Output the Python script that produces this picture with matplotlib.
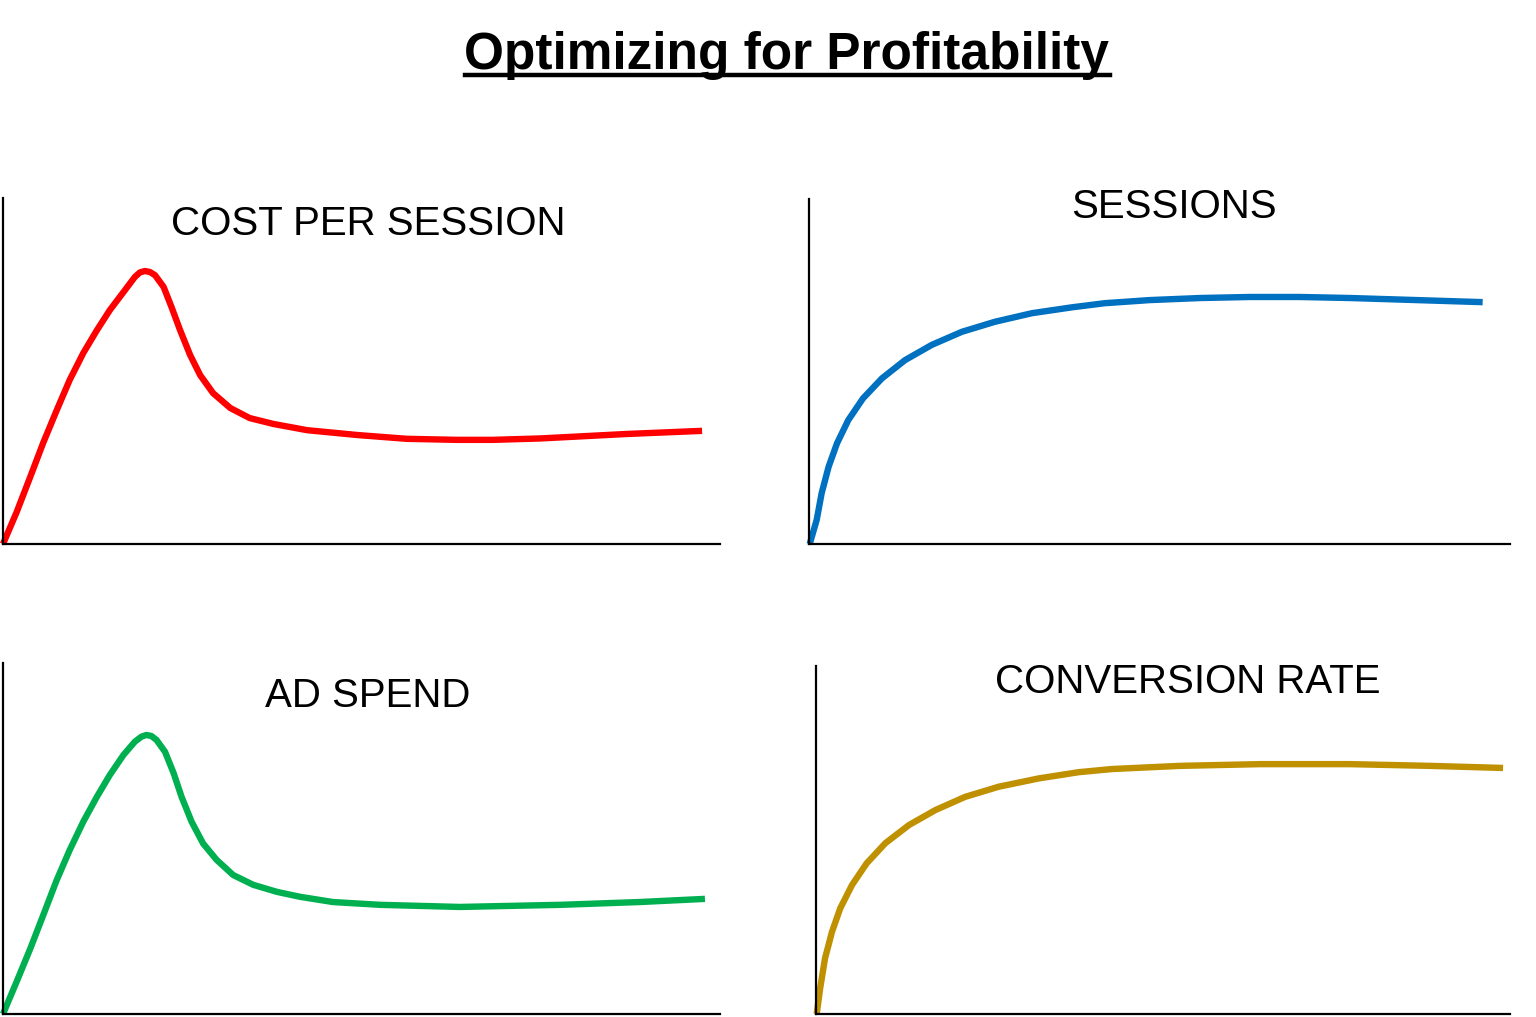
import numpy as np
import matplotlib
matplotlib.use('Agg')
import matplotlib.pyplot as plt
from matplotlib.lines import Line2D

plt.rcParams['font.family'] = ['Liberation Sans', 'DejaVu Sans']

#### Data (both axes in 0-100 units)

## Cost per session
cps_x = [0, 1.9, 3.8, 5.6, 7.5, 9.3, 11.2, 13.1, 14.9, 16.8, 18.4, 19.1, 19.8, 20.5, 21.2, 22.4, 23.5, 24.7, 26.1, 27.5, 29.3, 31.7, 34.4, 37.7, 42.4, 49.4, 56.3, 63.3, 68.3, 74.9, 87.0, 97.5]
cps_y = [0, 9.2, 19.4, 29.2, 38.7, 47.4, 55.2, 61.8, 67.6, 72.8, 77.2, 78.5, 78.9, 78.6, 77.7, 74.3, 68.5, 61.8, 54.6, 48.8, 43.6, 39.3, 36.4, 34.7, 32.9, 31.5, 30.4, 30.1, 30.1, 30.5, 31.8, 32.7]

## Sessions
ses_x = [0.1, 1.1, 1.8, 2.8, 4.0, 5.6, 7.7, 10.4, 13.7, 17.5, 21.8, 26.5, 31.8, 37.5, 42.2, 48.6, 55.8, 62.9, 70.0, 77.2, 86.7, 96.1]
ses_y = [0, 7.0, 14.7, 22.4, 29.2, 35.9, 42.2, 48.0, 53.3, 57.7, 61.5, 64.4, 66.9, 68.6, 69.8, 70.7, 71.3, 71.6, 71.6, 71.3, 70.7, 70.1]

## Ad spend
ads_x = [0, 1.9, 3.8, 5.6, 7.5, 9.3, 11.2, 13.1, 14.9, 16.8, 18.4, 19.3, 20.0, 20.7, 21.4, 22.6, 23.8, 24.9, 26.3, 27.9, 29.8, 32.1, 34.9, 38.2, 41.4, 46.0, 52.6, 63.7, 77.7, 88.8, 97.9]
ads_y = [0, 9.2, 18.6, 28.1, 38.2, 46.7, 54.8, 61.9, 68.1, 73.8, 77.6, 79.0, 79.5, 79.2, 78.1, 74.7, 68.6, 61.9, 54.8, 48.6, 43.9, 39.6, 36.8, 34.8, 33.4, 31.9, 31.1, 30.5, 31.1, 31.9, 32.8]

## Conversion rate
cvr_x = [0.1, 0.6, 1.3, 2.3, 3.5, 5.2, 7.3, 10.0, 13.4, 17.2, 21.5, 26.3, 32.1, 37.9, 42.7, 52.4, 64.0, 76.9, 88.5, 99.0]
cvr_y = [0, 7.4, 16.0, 23.6, 30.4, 37.1, 43.3, 49.1, 54.3, 58.6, 62.4, 65.3, 67.7, 69.5, 70.4, 71.3, 71.8, 71.8, 71.3, 70.7]

titles = ['COST PER SESSION', 'SESSIONS', 'AD SPEND', 'CONVERSION RATE']
colors = ['#FF0000', '#0070C0', '#00B050', '#BF9000']

#### Layout (figure fractions)
W, H = 1536, 1017
ax_rects = [[3/W, (H-544)/H, 717/W, 346/H],
            [809/W, (H-544)/H, 701/W, 345/H],
            [3/W, (H-1014)/H, 717/W, 351/H],
            [816/W, (H-1014)/H, 694/W, 348/H]]
title_pos = [(368/W, (H-235)/H), (1174/W, (H-218)/H), (368/W, (H-707)/H), (1188/W, (H-693)/H)]

fig = plt.figure(figsize=(W/100, H/100), dpi=100)

series = [(cps_x, cps_y), (ses_x, ses_y), (ads_x, ads_y), (cvr_x, cvr_y)]
for i in range(4):
    ax = fig.add_axes(ax_rects[i])
    xs, ys = series[i]
    ax.plot(xs, ys, color=colors[i], lw=4.6, solid_joinstyle='round', solid_capstyle='butt', clip_on=False)
    ax.set_xlim(0, 100)
    ax.set_ylim(0, 100)
    ax.set_xticks([])
    ax.set_yticks([])
    for s in ['top', 'right']:
        ax.spines[s].set_visible(False)
    for s in ['left', 'bottom']:
        ax.spines[s].set_linewidth(1.6)
        ax.spines[s].set_color('black')
    ax.patch.set_alpha(0)
    fig.text(title_pos[i][0], title_pos[i][1], titles[i], ha='center', va='baseline', fontsize=29)

## main title, underlined
t = fig.text(787/W, (H-69)/H, 'Optimizing for Profitability', ha='center', va='baseline', fontsize=37, fontweight='bold')
fig.canvas.draw()
bb = t.get_window_extent()
uy = (H-75)/H
fig.add_artist(Line2D([bb.x0/W, bb.x1/W], [uy, uy], color='black', lw=3.2, transform=fig.transFigure))

fig.savefig('out.png', dpi=100)
